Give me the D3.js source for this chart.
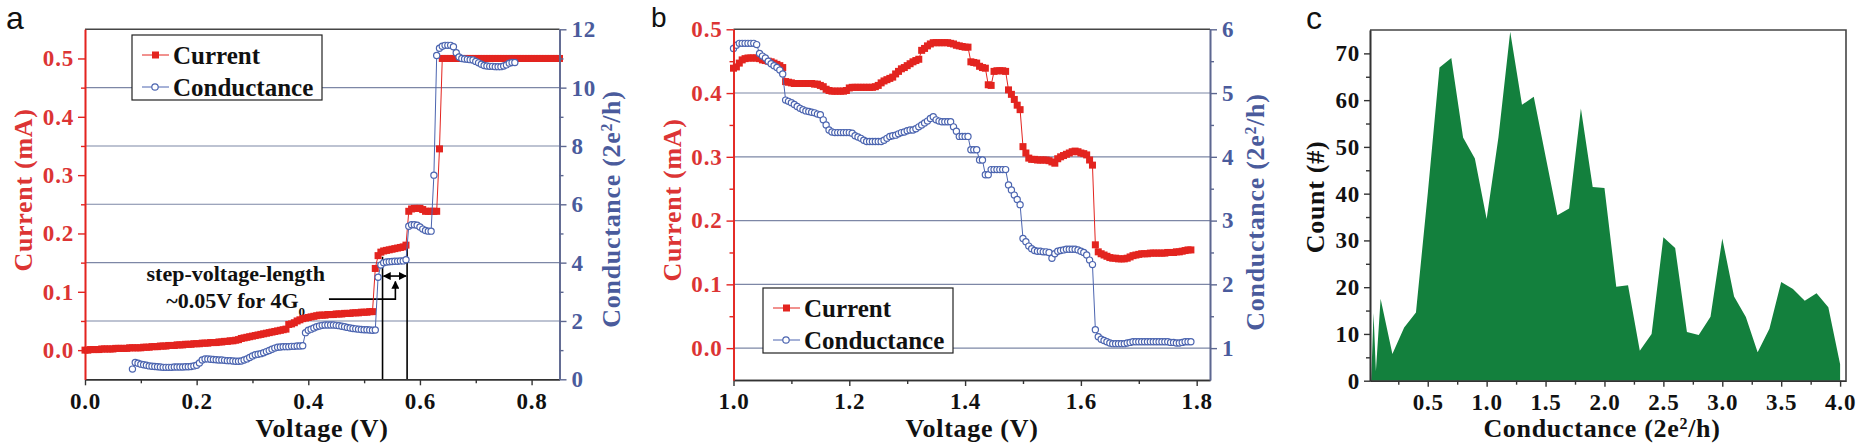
<!DOCTYPE html>
<html>
<head>
<meta charset="utf-8">
<script src="https://cdn.jsdelivr.net/npm/d3@7"></script>
<style>
  body { margin: 0; background: #fff; }
  svg text { font-family: "Liberation Serif", "Times New Roman", serif; font-weight: bold; }
</style>
</head>
<body>
<svg id="fig" width="1866" height="443"></svg>
<script>
// sweep step of the voltage ramp (V)
const sweepStep = 0.005;

// panel a : current (mA) from 0 V, conductance (2e^2/h) from 0.085 V
const currentA_v0 = 0;
const currentA = [
  0.000,0.000,0.001,0.001,0.001,0.001,0.002,0.002,0.002,0.002,
  0.002,0.003,0.003,0.003,0.003,0.003,0.004,0.004,0.004,0.004,
  0.004,0.005,0.005,0.005,0.006,0.006,0.006,0.007,0.007,0.007,
  0.008,0.008,0.008,0.009,0.009,0.009,0.010,0.010,0.010,0.011,
  0.011,0.011,0.012,0.012,0.012,0.013,0.013,0.013,0.014,0.014,
  0.015,0.015,0.016,0.016,0.017,0.018,0.020,0.021,0.022,0.023,
  0.024,0.025,0.026,0.027,0.028,0.029,0.030,0.031,0.032,0.033,
  0.034,0.035,0.036,0.044,0.045,0.047,0.050,0.052,0.054,0.055,
  0.056,0.057,0.058,0.059,0.060,0.060,0.060,0.061,0.061,0.061,
  0.062,0.062,0.062,0.063,0.063,0.063,0.064,0.064,0.064,0.065,
  0.065,0.065,0.066,0.066,0.140,0.162,0.168,0.170,0.171,0.172,
  0.173,0.174,0.175,0.176,0.177,0.180,0.238,0.242,0.243,0.243,
  0.243,0.241,0.238,0.238,0.238,0.238,0.238,0.345,0.500,0.500,
  0.500,0.500,0.500,0.500,0.500,0.500,0.500,0.500,0.500,0.500,
  0.500,0.500,0.500,0.500,0.500,0.500,0.500,0.500,0.500,0.500,
  0.500,0.500,0.500,0.500,0.500,0.500,0.500,0.500,0.500,0.500,
  0.500,0.500,0.500,0.500,0.500,0.500,0.500,0.500,0.500,0.500,
  0.500
];
const conductA_v0 = 0.085;
const conductA = [
  0.35,0.58,0.55,0.52,0.50,0.48,0.46,0.45,0.44,0.43,
  0.42,0.41,0.41,0.41,0.41,0.42,0.42,0.42,0.42,0.43,
  0.43,0.44,0.46,0.48,0.56,0.66,0.70,0.70,0.69,0.68,
  0.67,0.66,0.66,0.65,0.64,0.64,0.63,0.62,0.62,0.63,
  0.66,0.70,0.75,0.80,0.84,0.86,0.88,0.91,0.95,0.99,
  1.03,1.07,1.10,1.11,1.12,1.12,1.12,1.13,1.13,1.14,
  1.14,1.15,1.60,1.68,1.72,1.76,1.80,1.83,1.85,1.86,
  1.86,1.86,1.86,1.85,1.84,1.82,1.80,1.78,1.76,1.74,
  1.73,1.72,1.71,1.70,1.70,1.69,1.68,1.69,3.50,3.92,
  4.00,4.02,4.03,4.04,4.05,4.05,4.06,4.06,4.10,5.25,
  5.30,5.30,5.28,5.22,5.15,5.10,5.08,5.08,7.00,11.10,
  11.35,11.42,11.45,11.45,11.45,11.40,11.20,11.05,11.00,10.98,
  10.97,10.96,10.95,10.90,10.85,10.80,10.76,10.74,10.73,10.73,
  10.72,10.72,10.72,10.74,10.78,10.84,10.86,10.86
];

// panel b : both series from 1.0 V
const sweepB_v0 = 1.0;
const currentB = [
  0.439,0.441,0.447,0.452,0.454,0.455,0.455,0.455,0.455,0.454,
  0.452,0.451,0.450,0.449,0.447,0.445,0.443,0.440,0.418,0.417,
  0.416,0.415,0.415,0.415,0.415,0.415,0.415,0.415,0.414,0.414,
  0.412,0.410,0.406,0.404,0.403,0.403,0.403,0.403,0.403,0.404,
  0.408,0.409,0.409,0.409,0.409,0.409,0.409,0.409,0.409,0.410,
  0.412,0.416,0.419,0.421,0.423,0.425,0.430,0.434,0.438,0.440,
  0.443,0.446,0.449,0.451,0.453,0.467,0.470,0.474,0.477,0.479,
  0.479,0.479,0.479,0.479,0.479,0.478,0.477,0.475,0.474,0.473,
  0.472,0.472,0.449,0.448,0.447,0.442,0.440,0.439,0.413,0.412,
  0.434,0.435,0.435,0.435,0.434,0.405,0.398,0.390,0.381,0.374,
  0.316,0.306,0.298,0.296,0.296,0.295,0.295,0.295,0.295,0.294,
  0.292,0.290,0.297,0.300,0.302,0.304,0.306,0.308,0.309,0.308,
  0.306,0.305,0.303,0.295,0.287,0.162,0.151,0.148,0.146,0.144,
  0.142,0.141,0.141,0.140,0.140,0.140,0.141,0.143,0.145,0.146,
  0.147,0.148,0.148,0.148,0.149,0.149,0.149,0.149,0.149,0.149,
  0.150,0.150,0.150,0.151,0.151,0.152,0.153,0.154,0.154
];
const conductB = [
  5.70,5.75,5.78,5.78,5.78,5.78,5.78,5.78,5.76,5.62,
  5.58,5.55,5.50,5.46,5.43,5.40,5.36,5.30,4.89,4.87,
  4.85,4.82,4.79,4.76,4.74,4.72,4.71,4.70,4.69,4.67,
  4.66,4.58,4.50,4.42,4.39,4.38,4.38,4.38,4.38,4.38,
  4.38,4.37,4.33,4.31,4.29,4.26,4.24,4.24,4.24,4.24,
  4.24,4.24,4.26,4.29,4.32,4.33,4.34,4.36,4.38,4.39,
  4.41,4.42,4.42,4.44,4.47,4.50,4.53,4.56,4.60,4.63,
  4.58,4.56,4.55,4.55,4.55,4.55,4.47,4.40,4.32,4.32,
  4.32,4.32,4.11,4.11,4.11,3.95,3.95,3.72,3.72,3.80,
  3.80,3.80,3.80,3.80,3.80,3.56,3.48,3.40,3.33,3.25,
  2.72,2.67,2.60,2.56,2.53,2.52,2.52,2.51,2.51,2.50,
  2.41,2.48,2.52,2.53,2.54,2.55,2.55,2.55,2.55,2.54,
  2.52,2.50,2.46,2.38,2.31,1.29,1.18,1.14,1.12,1.10,
  1.08,1.07,1.07,1.07,1.07,1.07,1.08,1.09,1.10,1.10,
  1.10,1.10,1.10,1.10,1.10,1.10,1.10,1.10,1.10,1.10,
  1.10,1.09,1.09,1.08,1.08,1.09,1.10,1.10,1.10
];

// panel c : conductance histogram
const histG = [0.02,0.04,0.06,0.1,0.2,0.3,0.4,0.5,0.6,0.7,0.8,0.9,1.0,1.1,1.2,1.3,1.4,1.5,1.6,1.7,1.8,1.9,2.0,
  2.1,2.2,2.3,2.4,2.5,2.6,2.7,2.8,2.9,3.0,3.1,3.2,3.3,3.4,3.5,3.6,3.7,3.8,3.9,4.0];
const histCount = [0,14.5,2,17.5,5.7,11.4,14.6,40,67,69,52,47.5,34.6,52,74.6,59,60.7,48,35.4,36.8,58.2,41.4,41.2,
  20.1,20.4,6.4,10,30.7,28.4,10.4,9.8,13.7,30.4,18,13.6,6.1,11.1,21.1,19.6,17.1,18.7,15.7,3.5];

// tick values
const ticksVoltA = [0, 0.2, 0.4, 0.6, 0.8];
const minorVoltA = [0.1, 0.3, 0.5, 0.7];
const ticksCurr = [0, 0.1, 0.2, 0.3, 0.4, 0.5];
const minorCurr = [0.05, 0.15, 0.25, 0.35, 0.45];
const ticksCondA = [0, 2, 4, 6, 8, 10, 12];
const minorCondA = [1, 3, 5, 7, 9, 11];
const gridCondA = [2, 4, 6, 8, 10];
const ticksVoltB = [1.0, 1.2, 1.4, 1.6, 1.8];
const minorVoltB = [1.1, 1.3, 1.5, 1.7];
const ticksCondB = [1, 2, 3, 4, 5, 6];
const minorCondB = [1.5, 2.5, 3.5, 4.5, 5.5];
const gridCondB = [1, 2, 3, 4, 5];
const ticksHistX = [0.5, 1.0, 1.5, 2.0, 2.5, 3.0, 3.5, 4.0];
const minorHistX = [0.25, 0.75, 1.25, 1.75, 2.25, 2.75, 3.25, 3.75];
const ticksHistY = [0, 10, 20, 30, 40, 50, 60, 70];
const minorHistY = [5, 15, 25, 35, 45, 55, 65];

// colours
const red = "#e3241f";
const redText = "#dc3434";
const blue = "#4c65b0";
const blueText = "#4a5b9c";
const gridColor = "#7d87a6";
const frameColor = "#454545";

const svg = d3.select("#fig");

svg.append("defs").append("marker")
  .attr("id", "arrowHead")
  .attr("viewBox", "0 0 10 10")
  .attr("refX", 9).attr("refY", 5)
  .attr("markerWidth", 5).attr("markerHeight", 5)
  .attr("orient", "auto-start-reverse")
  .append("path").attr("d", "M0,0 L10,5 L0,10 z").attr("fill", "#000");

const toPts = (v0, arr) => arr.map((y, i) => [v0 + i * sweepStep, y]);

// styles an axis group after d3 has built it
function styleAxis(g, lineColor, textColor, fontSize) {
  g.attr("font-family", null).attr("font-size", null);
  g.select(".domain").attr("stroke", lineColor).attr("stroke-width", 1.6);
  g.selectAll(".tick line").attr("stroke", lineColor).attr("stroke-width", 1.4);
  g.selectAll(".tick text").attr("fill", textColor)
    .style("font-size", fontSize + "px").style("letter-spacing", "0.8px");
}

function addAxis(parent, axisMajor, axisMinor, transform, lineColor, textColor) {
  const gMinor = parent.append("g").attr("transform", transform).call(axisMinor);
  styleAxis(gMinor, lineColor, textColor, 23);
  gMinor.selectAll(".tick text").remove();
  const gMajor = parent.append("g").attr("transform", transform).call(axisMajor);
  styleAxis(gMajor, lineColor, textColor, 23);
}

function title(parent, x, y, rotate, color, parts) {
  const t = parent.append("text")
    .attr("transform", `translate(${x},${y})` + (rotate ? " rotate(-90)" : ""))
    .attr("text-anchor", "middle").attr("dy", "0.35em")
    .attr("fill", color).style("font-size", "26px").style("letter-spacing", "0.7px");
  parts.forEach((p) => {
    const s = t.append("tspan").text(p.text);
    if (p.sup) s.attr("baseline-shift", "super").style("font-size", "16px");
  });
  return t;
}

const condTitle = [{ text: "Conductance (2e" }, { text: "2", sup: true }, { text: "/h)" }];

function panelLetter(x, y, txt, size) {
  svg.append("text").attr("x", x).attr("y", y).text(txt)
    .style("font-family", "'Liberation Sans', Arial, sans-serif")
    .style("font-weight", "normal").style("font-size", size + "px").attr("fill", "#111");
}

// dual axis I-V panel (panels a and b)
function dualPanel(cfg) {
  const { x, yL, yR } = cfg;
  const g = svg.append("g");
  const [x0, x1] = x.range();
  const [yb, yt] = yL.range();

  // horizontal grid at conductance ticks
  g.selectAll(".grid").data(cfg.grid).enter().append("line")
    .attr("x1", x0).attr("x2", x1)
    .attr("y1", (d) => yR(d)).attr("y2", (d) => yR(d))
    .attr("stroke", gridColor).attr("stroke-width", 1.1);

  // top frame
  g.append("line").attr("x1", x0).attr("x2", x1).attr("y1", yt).attr("y2", yt)
    .attr("stroke", frameColor).attr("stroke-width", 1.6);

  if (cfg.extra) cfg.extra(g);

  const cur = toPts(cfg.curV0, cfg.current);
  const con = toPts(cfg.conV0, cfg.conduct);

  g.append("path").datum(cur)
    .attr("d", d3.line().x((d) => x(d[0])).y((d) => yL(d[1])))
    .attr("fill", "none").attr("stroke", red).attr("stroke-width", 1);
  g.selectAll(".sq").data(cur).enter().append("rect")
    .attr("x", (d) => x(d[0]) - 3.5).attr("y", (d) => yL(d[1]) - 3.5)
    .attr("width", 7).attr("height", 7).attr("fill", red);

  g.append("path").datum(con)
    .attr("d", d3.line().x((d) => x(d[0])).y((d) => yR(d[1])))
    .attr("fill", "none").attr("stroke", blue).attr("stroke-width", 1);
  g.selectAll(".ci").data(con).enter().append("circle")
    .attr("cx", (d) => x(d[0])).attr("cy", (d) => yR(d[1])).attr("r", 3.1)
    .attr("fill", "#fff").attr("stroke", blue).attr("stroke-width", 1.2);

  // axes
  addAxis(g,
    d3.axisBottom(x).tickValues(cfg.xTicks).tickFormat(d3.format(".1f")).tickSize(6).tickPadding(7).tickSizeOuter(0),
    d3.axisBottom(x).tickValues(cfg.xMinor).tickFormat("").tickSize(4).tickSizeOuter(0),
    `translate(0,${yb})`, "#333", "#111");
  addAxis(g,
    d3.axisLeft(yL).tickValues(ticksCurr).tickFormat(d3.format(".1f")).tickSize(7).tickPadding(4).tickSizeOuter(0),
    d3.axisLeft(yL).tickValues(minorCurr).tickFormat("").tickSize(4).tickSizeOuter(0),
    `translate(${x0},0)`, red, redText);
  addAxis(g,
    d3.axisRight(yR).tickValues(cfg.rTicks).tickFormat(d3.format("d")).tickSize(7).tickPadding(5).tickSizeOuter(0),
    d3.axisRight(yR).tickValues(cfg.rMinor).tickFormat("").tickSize(4).tickSizeOuter(0),
    `translate(${x1},0)`, "#5d6790", blueText);

  // legend
  const lg = g.append("g").attr("transform", `translate(${cfg.legend[0]},${cfg.legend[1]})`);
  lg.append("rect").attr("width", 190).attr("height", 65)
    .attr("fill", "#fff").attr("stroke", "#222").attr("stroke-width", 1.2);
  const items = [
    { name: "Current", color: red, shape: "sq" },
    { name: "Conductance", color: blue, shape: "ci" },
  ];
  items.forEach((it, i) => {
    const cy = 20 + i * 32;
    lg.append("line").attr("x1", 10).attr("x2", 37).attr("y1", cy).attr("y2", cy)
      .attr("stroke", it.color).attr("stroke-width", 1);
    if (it.shape === "sq") {
      lg.append("rect").attr("x", 20).attr("y", cy - 3.5).attr("width", 7).attr("height", 7).attr("fill", it.color);
    } else {
      lg.append("circle").attr("cx", 23).attr("cy", cy).attr("r", 3.2)
        .attr("fill", "#fff").attr("stroke", it.color).attr("stroke-width", 1.2);
    }
    lg.append("text").attr("x", 41).attr("y", cy).attr("dy", "0.34em")
      .style("font-size", "25px").attr("fill", "#111").text(it.name);
  });

  // axis titles
  title(g, cfg.titles.left[0], cfg.titles.left[1], true, redText, [{ text: "Current (mA)" }]);
  title(g, cfg.titles.right[0], cfg.titles.right[1], true, blueText, condTitle);
  title(g, cfg.titles.bottom[0], cfg.titles.bottom[1], false, "#111", [{ text: "Voltage (V)" }]);
}

// ---------- panel a ----------
const xA = d3.scaleLinear().domain([0, 0.85]).range([85, 559.5]);
const yLA = d3.scaleLinear().domain([-0.05, 0.55]).range([379.3, 29.3]);
const yRA = d3.scaleLinear().domain([0, 12]).range([379.3, 29.3]);

// annotation of the 4G0 step, in data units (V, conductance)
const stepV = [0.533, 0.577];
const stepTop = [4.2, 4.55];
const stepArrowG = 3.54;
const noteLine = { v0: 0.437, v1: 0.556, g: 2.75, gTip: 3.35 };
const noteText = { v: 0.27, g1: 3.64, g2: 2.72 };

dualPanel({
  x: xA, yL: yLA, yR: yRA,
  curV0: currentA_v0, current: currentA,
  conV0: conductA_v0, conduct: conductA,
  grid: gridCondA, xTicks: ticksVoltA, xMinor: minorVoltA,
  rTicks: ticksCondA, rMinor: minorCondA,
  legend: [132, 35],
  titles: { left: [23, 190], right: [611, 209], bottom: [322, 428] },
  extra: (g) => {
    stepV.forEach((v, i) => {
      g.append("line").attr("x1", xA(v)).attr("x2", xA(v))
        .attr("y1", yRA(stepTop[i])).attr("y2", yRA(0))
        .attr("stroke", "#000").attr("stroke-width", 1.6);
    });
    g.append("line")
      .attr("x1", xA(stepV[0]) + 1).attr("x2", xA(stepV[1]) - 1)
      .attr("y1", yRA(stepArrowG)).attr("y2", yRA(stepArrowG))
      .attr("stroke", "#000").attr("stroke-width", 1.6)
      .attr("marker-start", "url(#arrowHead)").attr("marker-end", "url(#arrowHead)");
    g.append("path")
      .attr("d", `M${xA(noteLine.v0)},${yRA(noteLine.g)} H${xA(noteLine.v1)} V${yRA(noteLine.gTip)}`)
      .attr("fill", "none").attr("stroke", "#000").attr("stroke-width", 1.6)
      .attr("marker-end", "url(#arrowHead)");
    g.append("text").attr("x", xA(noteText.v)).attr("y", yRA(noteText.g1)).attr("dy", "0.35em")
      .attr("text-anchor", "middle").style("font-size", "22px").attr("fill", "#111")
      .text("step-voltage-length");
    const t2 = g.append("text").attr("x", xA(noteText.v)).attr("y", yRA(noteText.g2)).attr("dy", "0.35em")
      .attr("text-anchor", "middle").style("font-size", "22px").attr("fill", "#111");
    t2.append("tspan").text("~0.05V for 4G");
    t2.append("tspan").text("0").attr("baseline-shift", "sub").style("font-size", "13px");
  },
});

// ---------- panel b ----------
const xB = d3.scaleLinear().domain([1.0, 1.823]).range([733.5, 1210]);
const yLB = d3.scaleLinear().domain([-0.05, 0.5]).range([380, 29.3]);
const yRB = d3.scaleLinear().domain([0.5, 6]).range([380, 29.3]);

dualPanel({
  x: xB, yL: yLB, yR: yRB,
  curV0: sweepB_v0, current: currentB,
  conV0: sweepB_v0, conduct: conductB,
  grid: gridCondB, xTicks: ticksVoltB, xMinor: minorVoltB,
  rTicks: ticksCondB, rMinor: minorCondB,
  legend: [763, 288],
  titles: { left: [672, 200], right: [1255, 212], bottom: [972, 428] },
});

// ---------- panel c ----------
const xC = d3.scaleLinear().domain([0.01, 4.05]).range([1370, 1846]);
const yC = d3.scaleLinear().domain([0, 75]).range([380.7, 30]);
const gC = svg.append("g");

gC.append("path").datum(histG.map((gv, i) => [gv, histCount[i]]))
  .attr("d", d3.area().x((d) => xC(d[0])).y0(yC(0)).y1((d) => yC(d[1])))
  .attr("fill", "#13803d");

gC.append("path")
  .attr("d", `M${xC.range()[0]},${yC.range()[1]} H${xC.range()[1]} V${yC.range()[0]}`)
  .attr("fill", "none").attr("stroke", frameColor).attr("stroke-width", 1.6);

addAxis(gC,
  d3.axisBottom(xC).tickValues(ticksHistX).tickFormat(d3.format(".1f")).tickSize(6).tickPadding(7).tickSizeOuter(0),
  d3.axisBottom(xC).tickValues(minorHistX).tickFormat("").tickSize(4).tickSizeOuter(0),
  `translate(0,${yC.range()[0]})`, "#333", "#111");
addAxis(gC,
  d3.axisLeft(yC).tickValues(ticksHistY).tickFormat(d3.format("d")).tickSize(6).tickPadding(4).tickSizeOuter(0),
  d3.axisLeft(yC).tickValues(minorHistY).tickFormat("").tickSize(4).tickSizeOuter(0),
  `translate(${xC.range()[0]},0)`, "#333", "#111");

title(gC, 1315, 197, true, "#111", [{ text: "Count (#)" }]);
title(gC, 1602, 428, false, "#111", condTitle);

// panel letters
panelLetter(6, 29, "a", 32);
panelLetter(651, 27, "b", 28);
panelLetter(1306, 29, "c", 32);
</script>
</body>
</html>
